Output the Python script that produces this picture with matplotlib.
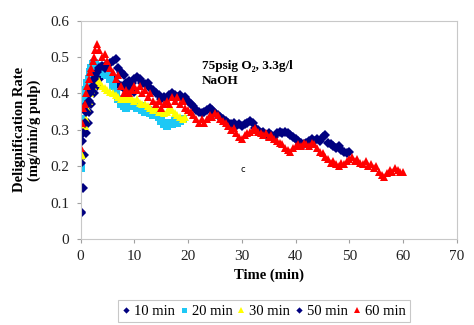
import numpy as np
import matplotlib
matplotlib.use("Agg")
import matplotlib.pyplot as plt

# ---------------- data ----------------
early_t = [0, 0.25, 0.5, 0.75, 1.0, 1.25, 1.5, 1.75, 2.0, 2.25, 2.5, 2.75]

t10 = [0, 0.1, 0.4, 0.6, 1.0, 1.3, 1.6, 2.0, 2.5, 3.0, 3.5, 4.0, 4.5, 5.0, 5.5,
       6.0, 6.5, 7.0, 7.5, 8.0, 8.5, 9.0, 9.5, 10.0]
v10 = [0.075, 0.07, 0.14, 0.23, 0.29, 0.32, 0.35, 0.37, 0.40, 0.42, 0.44, 0.45,
       0.46, 0.455, 0.45, 0.44, 0.43, 0.425, 0.42, 0.415, 0.41, 0.415, 0.41, 0.405]

v20_early = [0.195, 0.33, 0.38, 0.39, 0.41, 0.43, 0.44, 0.46, 0.47, 0.48, 0.485, 0.48]
v20 = [0.475, 0.47, 0.46, 0.455, 0.45, 0.44, 0.42, 0.40, 0.385, 0.37, 0.365, 0.36,
       0.365, 0.37, 0.365, 0.36, 0.365, 0.355, 0.35, 0.355, 0.345, 0.34, 0.345,
       0.335, 0.325, 0.315, 0.31, 0.32, 0.315, 0.325, 0.32, 0.325, 0.33]

v30_early = [0.22, 0.23, 0.30, 0.31, 0.33, 0.36, 0.38, 0.40, 0.41, 0.42, 0.43, 0.435]
v30 = [0.43, 0.435, 0.42, 0.415, 0.41, 0.405, 0.40, 0.395, 0.39, 0.385, 0.39, 0.385,
       0.39, 0.385, 0.38, 0.385, 0.375, 0.37, 0.37, 0.365, 0.36, 0.355, 0.36, 0.35,
       0.355, 0.345, 0.35, 0.36, 0.355, 0.345, 0.34, 0.335, 0.33, 0.335]

v50_early = [0.21, 0.27, 0.29, 0.32, 0.35, 0.37, 0.38, 0.40, 0.41, 0.42, 0.44, 0.45]
v50 = [0.46, 0.47, 0.475, 0.47, 0.48, 0.485, 0.49, 0.495, 0.47, 0.46, 0.45, 0.43,
       0.435, 0.43, 0.44, 0.445, 0.44, 0.43, 0.425, 0.43, 0.415, 0.41, 0.40, 0.395,
       0.385, 0.39, 0.385, 0.395, 0.40, 0.395, 0.39, 0.395, 0.385, 0.39, 0.38, 0.37,
       0.365, 0.355, 0.35, 0.345, 0.35, 0.355, 0.36, 0.355, 0.345, 0.34, 0.335, 0.33,
       0.325, 0.32, 0.315, 0.32, 0.31, 0.315, 0.31, 0.315, 0.32, 0.325, 0.32, 0.305,
       0.30, 0.29, 0.295, 0.285, 0.29, 0.285, 0.28, 0.29, 0.295, 0.29, 0.295, 0.29,
       0.285, 0.28, 0.275, 0.27, 0.265, 0.26, 0.265, 0.27, 0.275, 0.27, 0.275, 0.27,
       0.28, 0.285, 0.265, 0.26, 0.255, 0.25, 0.255, 0.245, 0.24, 0.235, 0.24]

v60_early = [0.25, 0.32, 0.36, 0.37, 0.40, 0.42, 0.44, 0.46, 0.47, 0.49, 0.50, 0.52]
v60 = [0.535, 0.52, 0.50, 0.51, 0.49, 0.47, 0.46, 0.44, 0.45, 0.42, 0.40, 0.41,
       0.40, 0.41, 0.42, 0.41, 0.42, 0.40, 0.41, 0.39, 0.40, 0.38, 0.37, 0.38,
       0.36, 0.37, 0.38, 0.37, 0.39, 0.38, 0.39, 0.37, 0.38, 0.36, 0.355, 0.35,
       0.34, 0.33, 0.32, 0.33, 0.32, 0.33, 0.34, 0.335, 0.345, 0.34, 0.33, 0.325,
       0.32, 0.31, 0.30, 0.305, 0.29, 0.28, 0.275, 0.285, 0.29, 0.295, 0.30, 0.305,
       0.295, 0.29, 0.285, 0.29, 0.28, 0.285, 0.275, 0.27, 0.265, 0.26, 0.25, 0.245,
       0.24, 0.25, 0.255, 0.26, 0.255, 0.265, 0.26, 0.255, 0.265, 0.26, 0.25, 0.24,
       0.235, 0.225, 0.22, 0.21, 0.215, 0.205, 0.20, 0.21, 0.205, 0.215, 0.22, 0.225,
       0.215, 0.22, 0.21, 0.205, 0.215, 0.20, 0.205, 0.195, 0.20, 0.185, 0.175, 0.17,
       0.18, 0.19, 0.185, 0.195, 0.19, 0.185, 0.185]

labels = ["10 min", "20 min", "30 min", "50 min", "60 min"]

# time grids (sampling instants)
t20 = early_t + [3.0 + 0.5 * i for i in range(len(v20))]
t30 = early_t + [3.0 + 0.5 * i for i in range(len(v30))]
t50 = early_t + [3.0 + 0.5 * i for i in range(len(v50))]
t60 = early_t + [3.0 + 0.5 * i for i in range(len(v60))]

series = [
    (t10, v10, "#000080", "D", 4.6),
    (t20, v20_early + v20, "#1EC8F5", "s", 5.2),
    (t30, v30_early + v30, "#FFFF00", "^", 6.4),
    (t50, v50_early + v50, "#000080", "D", 4.6),
    (t60, v60_early + v60, "#FF0000", "^", 6.4),
]
legend_ms = [3.2, 3.6, 4.4, 3.2, 4.4]

# ---------------- figure ----------------
fig = plt.figure(figsize=(4.74, 3.25), dpi=100)
ax = fig.add_axes([0.170, 0.265, 0.794, 0.671])

serif = ["Liberation Serif", "DejaVu Serif"]
for (t, v, c, m, ms), lab in zip(series, labels):
    ax.plot(t, v, linestyle="none", marker=m, color=c, markersize=ms,
            markeredgewidth=0, label=lab)

handles = [plt.Line2D([], [], linestyle="none", marker=m, color=c,
                      markersize=lms, markeredgewidth=0)
           for (t, v, c, m, ms), lms in zip(series, legend_ms)]

ax.set_xlim(0, 70)
ax.set_ylim(0, 0.6)
ax.set_xticks(range(0, 71, 10))
ax.set_yticks(np.arange(0, 0.61, 0.1))
ax.set_yticklabels(["0", "0.1", "0.2", "0.3", "0.4", "0.5", "0.6"])

for s in ax.spines.values():
    s.set_color("#C8C8C8")
    s.set_linewidth(0.8)
ax.tick_params(direction="out", length=3, width=0.8, color="#A0A0A0",
               labelsize=11, pad=5)
for lbl in ax.get_xticklabels() + ax.get_yticklabels():
    lbl.set_family(serif)
    lbl.set_color("#222222")

ax.set_xlabel("Time (min)", family=serif, fontweight="bold", fontsize=10.5, labelpad=4)
ax.set_ylabel("Delignification Rate\n(mg/min/g pulp)", family=serif,
              fontweight="bold", fontsize=10.5, labelpad=7, linespacing=1.15)

ax.text(22.6, 0.455, "75psig O\u2082, 3.3g/l\nNaOH", family=serif, fontweight="bold",
        fontsize=9.5, va="center", ha="left", linespacing=1.35)
ax.text(30.2, 0.192, "c", fontsize=6, ha="center", va="center",
        family=["DejaVu Sans"])

leg = fig.legend(handles, labels, loc="center", bbox_to_anchor=(0.557, 0.043),
                 ncol=5, frameon=True, fancybox=False, handlelength=0.5,
                 handletextpad=0.3, columnspacing=0.35, borderpad=0.3,
                 borderaxespad=0, prop={"family": serif, "size": 10.5})
leg.get_frame().set_edgecolor("#BBBBBB")
leg.get_frame().set_linewidth(0.8)

fig.savefig("out.png", dpi=100)
